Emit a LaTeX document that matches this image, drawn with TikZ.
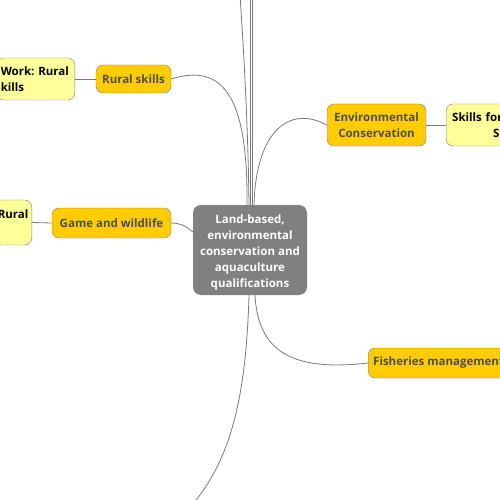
\documentclass[tikz,border=0pt]{standalone}
\usepackage{fontspec}
\setmainfont{Open Sans}
\usetikzlibrary{positioning}
\definecolor{mapgold}{HTML}{FFCC00}
\definecolor{mapcream}{HTML}{FFFF99}
\definecolor{mapgrey}{HTML}{808080}
\definecolor{maptext}{HTML}{4D4D4D}
\definecolor{mapline}{HTML}{7A7A7A}
\frenchspacing

\begin{document}
\begin{tikzpicture}[x=1pt, y=-1pt, font=\fontsize{11.5}{16}\selectfont\bfseries,
  topic/.style={draw=mapgrey, fill=mapgold, text=maptext, rounded corners=7pt,
                align=center, minimum height=30pt},
  leaf/.style={draw=mapgrey, fill=mapcream, text=black, rounded corners=7pt,
               minimum height=42pt},
  link/.style={draw=mapline, line width=0.8pt}]
  \useasboundingbox (0,0) rectangle (500,500);
  \node[fill=mapgrey, rounded corners=8pt, minimum width=114pt, minimum height=90pt,
        label={[yshift=-3pt, text=white, align=center]center:Land-based,\\environmental\\conservation and\\aquaculture\\qualifications}]
        (root) at (250,250) {};
  \node[topic, minimum width=75pt, minimum height=28pt] (rural) at (133.5,79) {Rural skills};
  \node[leaf, anchor=east, align=left, text width=70pt, inner xsep=4pt] (workrural)
        at (75,79) {Work: Rural\\kills};
  \node[topic, minimum width=119pt] (game) at (111.5,223) {Game and wildlife};
  \node[leaf, anchor=east, align=right, text width=30pt, inner xsep=4pt,
        minimum height=45pt] (ruralleaf) at (32,222.5) {Rural\\\phantom{R}};
  \node[topic, minimum width=99pt, minimum height=42pt] (envcons) at (376.5,125)
        {Environmental\\Conservation};
  \node[leaf, anchor=west, align=left, text width=80pt, inner xsep=6pt] (skillsfor)
        at (446,125) {Skills for\\\hspace*{41pt}S};
  \node[topic, anchor=west, inner xsep=5pt] (fisheries) at (368,363) {Fisheries management};
  \coordinate (upa) at (240,-5);
  \coordinate (upb) at (250,-5);
  \coordinate (upc) at (252.5,-5);
  \coordinate (downa) at (192,505);
  \draw[link] ([xshift=-1pt]root.north) .. controls (248,120) and (243,40) .. (upa);
  \draw[link, line width=1pt] (root.north) -- (upb);
  \draw[link, line width=1pt] ([xshift=2.5pt]root.north) -- (upc);
  \draw[link] (rural.east) .. controls (225,62) and (248,100) .. ([xshift=-3pt]root.north);
  \draw[link] ([xshift=4pt]root.north) .. controls (256,130) and (290,105) .. (envcons.west);
  \draw[link] (game.east) .. controls (182,223) and (188,228) .. ([yshift=18pt]root.west);
  \draw[link] ([xshift=5pt]root.south) .. controls (258,350) and (290,372) .. (fisheries.west);
  \draw[link] ([xshift=-1pt]root.south) .. controls (246,400) and (230,460) .. (downa);
  \draw[link] (workrural.east) -- (rural.west);
  \draw[link] (ruralleaf.east) -- (game.west);
  \draw[link] (envcons.east) -- (skillsfor.west);
\end{tikzpicture}
\end{document}
